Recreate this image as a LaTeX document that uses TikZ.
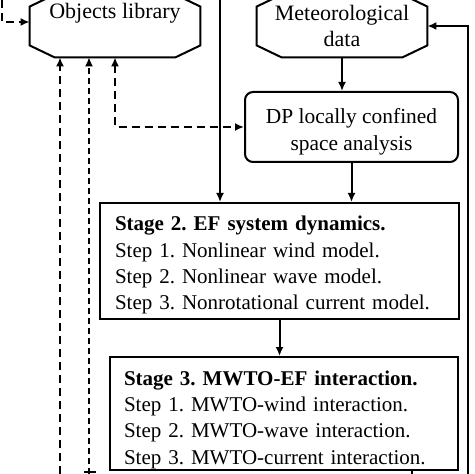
\documentclass[tikz,border=0pt]{standalone}
\usepackage{fontspec}
\setmainfont{Liberation Serif}
\usetikzlibrary{arrows.meta}
\frenchspacing

% chamfered outline round a named node
\newcommand{\octline}[1]{%
  \draw[line width=1pt] ([yshift=-6pt]#1.north west) -- ([xshift=12.5pt]#1.north west)
    -- ([xshift=-12.5pt]#1.north east) -- ([yshift=-6pt]#1.north east)
    -- ([yshift=6pt]#1.south east) -- ([xshift=-12.5pt]#1.south east)
    -- ([xshift=12.5pt]#1.south west) -- ([yshift=6pt]#1.south west) -- cycle;}

\begin{document}
\begin{tikzpicture}[x=0.5pt,y=-0.5pt,
    font=\fontsize{11}{13.2}\selectfont,
    box/.style={draw,line width=1pt,inner sep=0pt},
    octbox/.style={inner sep=0pt,minimum width=85pt,minimum height=31pt,align=center},
    stagebox/.style={box,minimum height=58pt,align=left,font=\fontsize{10.5}{13.2}\selectfont},
    arr/.style={line width=1pt,-{Latex[length=4.5pt,width=4pt]}},
    dashlink/.style={line width=1pt,dash pattern=on 4pt off 2.5pt,-{Latex[length=4.5pt,width=4pt]}}]
  \useasboundingbox (0,0) rectangle (474,474);
  \clip (0,0) rectangle (474,474);
  \node[octbox] (objlib) at (115,26) {};
  \node (objtext) at (115,13) {Objects library};
  \node[octbox] (meteo) at (342,26) {Meteorological\\data};
  \octline{objlib}
  \octline{meteo}
  \node[box,rounded corners=4pt,minimum width=106.5pt,minimum height=35pt,align=center,
    font=\fontsize{10.7}{13.2}\selectfont] (dp) at (351.5,127) {\rule{0pt}{12.5pt}DP locally confined\\space analysis};
  \node[stagebox,inner xsep=7.5pt,text width=164.5pt] (st2) at (279.5,261)
    {\rule{0pt}{11.5pt}\textbf{Stage 2. EF system dynamics.}\\Step 1. Nonlinear wind model.\\Step 2. Nonlinear wave model.\\Step 3. Nonrotational current model.};
  \node[stagebox,inner xsep=7pt,text width=160pt,minimum height=56.5pt] (st3) at (284,413.5)
    {\rule{0pt}{13.5pt}\textbf{Stage 3. MWTO-EF interaction.}\\Step 1. MWTO-wind interaction.\\Step 2. MWTO-wave interaction.\\Step 3. MWTO-current interaction.};
  % links to the objects library
  \coordinate (libin) at (2,0);
  \coordinate (b1) at (60,474);
  \coordinate (b2) at (89,474);
  \coordinate (tick) at (89,472);
  \draw[dashlink] (libin) |- ([yshift=2pt]objlib.west);
  \draw[dashlink] (b1) -- (b1 |- objlib.south);
  \draw[dashlink,line width=0.7pt,dash pattern=on 3pt off 2pt] (b2) -- (b2 |- objlib.south);
  \draw[line width=0.8pt] (tick) ++(-5,0) -- ++(12,0);
  \draw[dashlink,{Latex[length=4.5pt,width=4pt]}-{Latex[length=4.5pt,width=4pt]}] (objlib.south) |- (dp.west);
  % main flow
  \coordinate (top) at (220,0);
  \coordinate (rb) at (468,474);
  \coordinate (bb) at (412,474);
  \draw[arr] (top) -- (top |- st2.north);
  \draw[arr] (meteo.south) -- (meteo.south |- dp.north);
  \draw[arr] (dp.south) -- (dp.south |- st2.north);
  \draw[arr] (rb) |- (meteo.east);
  \draw[arr] (st2.south) -- (st2.south |- st3.north);
  \draw[line width=1pt] (bb |- st3.south) -- (bb);
\end{tikzpicture}
\end{document}
